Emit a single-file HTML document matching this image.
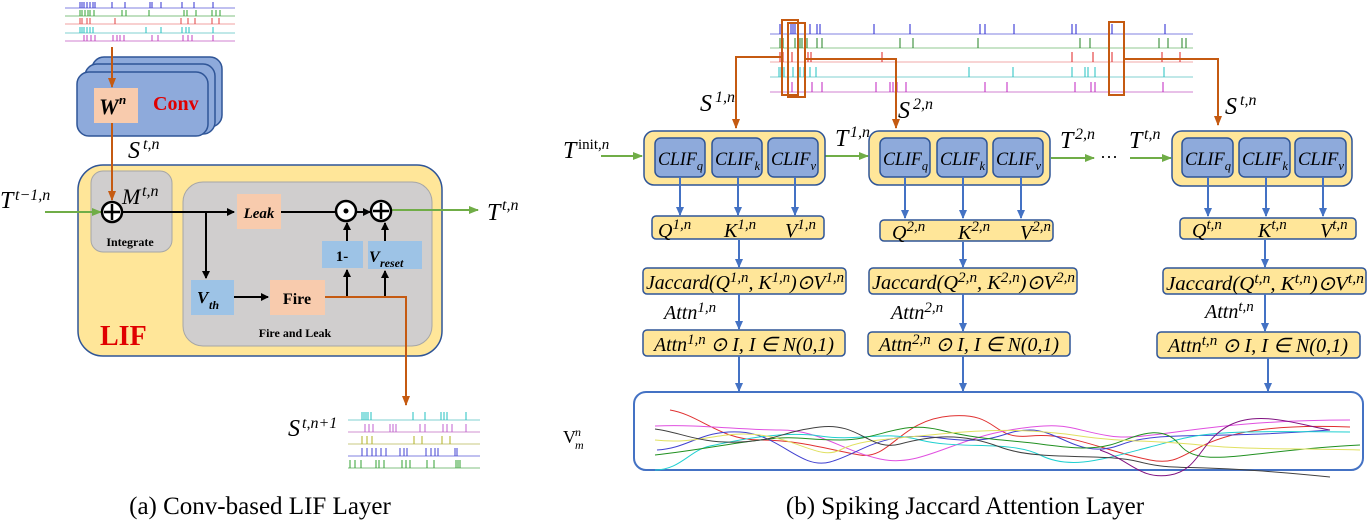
<!DOCTYPE html>
<html><head><meta charset="utf-8"><style>
html,body{margin:0;padding:0;background:#fff;}
svg{display:block;}
.m{font-family:"Liberation Serif",serif;font-style:italic;}
.b{font-family:"Liberation Serif",serif;font-weight:bold;}
</style></head><body>
<svg width="1369" height="523" viewBox="0 0 1369 523" xmlns="http://www.w3.org/2000/svg">
<defs>
<marker id="ab" markerWidth="8" markerHeight="8" refX="7" refY="4" orient="auto" markerUnits="userSpaceOnUse"><path d="M0,0 L8,4 L0,8z" fill="#000"/></marker>
<marker id="ag" markerWidth="10" markerHeight="8" refX="9" refY="4" orient="auto" markerUnits="userSpaceOnUse"><path d="M0,0 L10,4 L0,8z" fill="#70ad47"/></marker>
<marker id="ao" markerWidth="10" markerHeight="8" refX="9" refY="4" orient="auto" markerUnits="userSpaceOnUse"><path d="M0,0 L10,4 L0,8z" fill="#c55a11"/></marker>
<marker id="au" markerWidth="9" markerHeight="8" refX="8" refY="4" orient="auto" markerUnits="userSpaceOnUse"><path d="M0,0 L9,4 L0,8z" fill="#4472c4"/></marker>
</defs>

<!-- ===== LEFT (a) ===== -->
<g stroke-width="1">
<line x1="65" y1="8" x2="235" y2="8" stroke="#8080e0"/>
<line x1="65" y1="16" x2="235" y2="16" stroke="#80c080"/>
<line x1="65" y1="24" x2="235" y2="24" stroke="#f0a0a0"/>
<line x1="65" y1="33" x2="235" y2="33" stroke="#80d0d0"/>
<line x1="65" y1="41" x2="235" y2="41" stroke="#d080d0"/>
<path stroke="#3030d0" d="M80 8v-6M82 8v-6M84 8v-6M87 8v-6M90 8v-6M93 8v-6M95 8v-6M112 8v-6M125 8v-6M150 8v-6M152 8v-6M161 8v-6M182 8v-6M194 8v-6M213 8v-6"/>
<path stroke="#30a030" d="M80 16v-6M82 16v-6M85 16v-6M88 16v-6M90 16v-6M94 16v-6M122 16v-6M126 16v-6M149 16v-6M184 16v-6M187 16v-6M196 16v-6M212 16v-6M216 16v-6M220 16v-6"/>
<path stroke="#e04040" d="M80 24v-6M82 24v-6M87 24v-6M90 24v-6M115 24v-6M181 24v-6M188 24v-6M195 24v-6M212 24v-6M219 24v-6"/>
<path stroke="#20c0c0" d="M80 33v-6M82 33v-6M84 33v-6M87 33v-6M90 33v-6M93 33v-6M146 33v-6M161 33v-6M182 33v-6M186 33v-6M189 33v-6M213 33v-6"/>
<path stroke="#c040c0" d="M84 41v-6M87 41v-6M91 41v-6M95 41v-6M113 41v-6M117 41v-6M120 41v-6M124 41v-6M152 41v-6M158 41v-6M183 41v-6M188 41v-6M192 41v-6M213 41v-6"/>
</g>
<rect x="92" y="57" width="130" height="70" rx="12" fill="#8eaadb" stroke="#2f5597" stroke-width="1.5"/>
<rect x="85" y="64" width="130" height="70" rx="12" fill="#8eaadb" stroke="#2f5597" stroke-width="1.5"/>
<rect x="77" y="72" width="131" height="64" rx="12" fill="#8eaadb" stroke="#2f5597" stroke-width="1.5"/>
<rect x="94" y="88" width="44" height="35" fill="#f8cbad"/>
<text x="99" y="114" class="m" font-weight="bold" font-size="22">W</text><text x="119" y="104" class="m" font-weight="bold" font-size="13">n</text>
<text x="153" y="110" class="b" font-size="20" fill="#e00000">Conv</text>
<line x1="112" y1="47" x2="112" y2="87" stroke="#c55a11" stroke-width="2" marker-end="url(#ao)"/>
<rect x="78" y="165" width="364" height="191" rx="25" fill="#ffe699" stroke="#2f5597" stroke-width="1.5"/>
<rect x="91" y="171" width="81" height="81" rx="12" fill="#d0cece" stroke="#a6a6a6" stroke-width="1"/>
<rect x="183" y="182" width="249" height="164" rx="20" fill="#d0cece" stroke="#a6a6a6" stroke-width="1"/>
<line x1="112" y1="123" x2="112" y2="200" stroke="#c55a11" stroke-width="2" marker-end="url(#ao)"/>
<text x="128" y="158" class="m" font-size="24">S</text><text x="143" y="149" class="m" font-size="16">t,n</text>
<text x="0" y="208" class="m" font-size="24">T</text><text x="15" y="200" class="m" font-size="16">t−1,n</text>
<text x="122" y="204" class="m" font-size="22">M</text><text x="142" y="196" class="m" font-size="16">t,n</text>
<line x1="45" y1="212" x2="101" y2="212" stroke="#70ad47" stroke-width="2" marker-end="url(#ag)"/>
<text x="130" y="246" class="b" font-size="12" text-anchor="middle">Integrate</text>
<text x="295" y="337" class="b" font-size="12" text-anchor="middle">Fire and Leak</text>
<text x="100" y="345" class="b" font-size="28" fill="#e00000">LIF</text>
<rect x="237" y="194" width="44" height="35" fill="#f8cbad"/>
<text x="259" y="218" class="m" font-weight="bold" font-size="15" text-anchor="middle">Leak</text>
<rect x="191" y="280" width="43" height="35" fill="#9dc3e6"/>
<text x="197" y="303" class="m" font-weight="bold" font-size="17">V</text><text x="209" y="309" class="m" font-weight="bold" font-size="12">th</text>
<rect x="270" y="280" width="55" height="35" fill="#f8cbad"/>
<text x="297" y="304" class="b" font-size="16" text-anchor="middle">Fire</text>
<rect x="322" y="241" width="41" height="27" fill="#9dc3e6"/>
<text x="342" y="261" class="b" font-size="15" text-anchor="middle">1-</text>
<rect x="368" y="241" width="54" height="28" fill="#9dc3e6"/>
<text x="369" y="262" class="m" font-weight="bold" font-size="16">V</text><text x="380" y="267" class="m" font-weight="bold" font-size="12">reset</text>
<g stroke="#000" stroke-width="2" fill="none">
<line x1="122" y1="212" x2="234" y2="212" marker-end="url(#ab)"/>
<line x1="206" y1="212" x2="206" y2="278" marker-end="url(#ab)"/>
<line x1="234" y1="297" x2="268" y2="297" marker-end="url(#ab)"/>
<line x1="281" y1="212" x2="336" y2="212"/>
<line x1="356" y1="212" x2="370" y2="212" marker-end="url(#ab)"/>
<line x1="347" y1="241" x2="347" y2="223" marker-end="url(#ab)"/>
<line x1="385" y1="241" x2="385" y2="223" marker-end="url(#ab)"/>
<line x1="347" y1="297" x2="347" y2="270" marker-end="url(#ab)"/>
<line x1="385" y1="297" x2="385" y2="271" marker-end="url(#ab)"/>
</g>
<polyline points="325,297 406,297 406,405" fill="none" stroke="#c55a11" stroke-width="2" marker-end="url(#ao)"/>
<line x1="392" y1="210" x2="478" y2="210" stroke="#70ad47" stroke-width="2" marker-end="url(#ag)"/>
<g stroke="#000" stroke-width="2.5" fill="#fff">
<circle cx="112" cy="212" r="10"/><circle cx="346" cy="211" r="10"/><circle cx="381" cy="211" r="10"/>
</g>
<path d="M112 204v16M104 212h16M381 203v16M373 211h16" stroke="#000" stroke-width="2.5"/>
<circle cx="346" cy="211" r="2.5" fill="#000"/>
<text x="487" y="220" class="m" font-size="24">T</text><text x="502" y="210" class="m" font-size="16">t,n</text>
<text x="288" y="436" class="m" font-size="24">S</text><text x="302" y="428" class="m" font-size="16">t,n+1</text>
<g stroke-width="1">
<line x1="348" y1="420" x2="480" y2="420" stroke="#80d0d0"/>
<line x1="348" y1="432" x2="480" y2="432" stroke="#d090d0"/>
<line x1="348" y1="444" x2="480" y2="444" stroke="#c8c880"/>
<line x1="348" y1="456" x2="480" y2="456" stroke="#8080e0"/>
<line x1="348" y1="468" x2="480" y2="468" stroke="#80c080"/>
<path stroke="#20c0c0" d="M362 420v-8M364 420v-8M366 420v-8M368 420v-8M371 420v-8M413 420v-8M425 420v-8M441 420v-8M444 420v-8M447 420v-8M466 420v-8"/>
<path stroke="#c060d0" d="M365 432v-8M369 432v-8M373 432v-8M390 432v-8M393 432v-8M396 432v-8M420 432v-8M425 432v-8M443 432v-8M447 432v-8M452 432v-8M466 432v-8"/>
<path stroke="#b0b020" d="M362 444v-8M367 444v-8M372 444v-8M414 444v-8M422 444v-8M442 444v-8M450 444v-8"/>
<path stroke="#4040d0" d="M362 456v-8M367 456v-8M372 456v-8M376 456v-8M381 456v-8M386 456v-8M400 456v-8M404 456v-8M407 456v-8M426 456v-8M431 456v-8M435 456v-8M438 456v-8M455 456v-8M457 456v-8"/>
<path stroke="#30a030" d="M350 468v-8M355 468v-8M361 468v-8M376 468v-8M379 468v-8M384 468v-8M402 468v-8M406 468v-8M410 468v-8M427 468v-8M434 468v-8M456 468v-8M458 468v-8M460 468v-8"/>
</g>
<text x="260" y="514" font-family="Liberation Serif,serif" font-size="25" text-anchor="middle">(a) Conv-based LIF Layer</text>

<!-- ===== RIGHT (b) ===== -->
<g stroke-width="1">
<line x1="770" y1="34" x2="1193" y2="34" stroke="#8080e0"/>
<line x1="770" y1="48" x2="1193" y2="48" stroke="#90c890"/>
<line x1="770" y1="62" x2="1193" y2="62" stroke="#f0a8a8"/>
<line x1="770" y1="77" x2="1193" y2="77" stroke="#80d0d0"/>
<line x1="770" y1="92" x2="1193" y2="92" stroke="#d080d0"/>
<path stroke="#2020d0" d="M780 34v-10M791 34v-10M793 34v-10M795 34v-10M805 34v-10M810 34v-10M817 34v-10M820 34v-10M874 34v-10M910 34v-10M980 34v-10M985 34v-10M1014 34v-10M1072 34v-10M1076 34v-10M1112 34v-10M1165 34v-10"/>
<path stroke="#208020" d="M780 48v-10M783 48v-10M788 48v-10M795 48v-10M800 48v-10M802 48v-10M807 48v-10M817 48v-10M822 48v-10M900 48v-10M913 48v-10M978 48v-10M1080 48v-10M1090 48v-10M1159 48v-10M1168 48v-10M1182 48v-10M1186 48v-10"/>
<path stroke="#e02020" d="M780 62v-10M783 62v-10M792 62v-10M805 62v-10M808 62v-10M811 62v-10M882 62v-10M1072 62v-10M1093 62v-10M1112 62v-10M1162 62v-10M1180 62v-10"/>
<path stroke="#20c0c0" d="M779 77v-10M781 77v-10M784 77v-10M793 77v-10M800 77v-10M804 77v-10M810 77v-10M816 77v-10M969 77v-10M1013 77v-10M1072 77v-10M1085 77v-10M1088 77v-10M1095 77v-10M1164 77v-10"/>
<path stroke="#c020c0" d="M792 92v-10M805 92v-10M812 92v-10M822 92v-10M876 92v-10M890 92v-10M893 92v-10M897 92v-10M906 92v-10M985 92v-10M1007 92v-10M1075 92v-10M1091 92v-10M1095 92v-10M1109 92v-10M1163 92v-10"/>
</g>
<g fill="none" stroke="#c55a11" stroke-width="2">
<rect x="782" y="20" width="16" height="75"/>
<rect x="788" y="23" width="17" height="74"/>
<rect x="1109" y="22" width="15" height="73"/>
<polyline points="782,57 736,57 736,128" marker-end="url(#ao)"/>
<polyline points="805,59 896,59 896,128" marker-end="url(#ao)"/>
<polyline points="1124,59 1218,59 1218,125" marker-end="url(#ao)"/>
</g>
<text x="700" y="111" class="m" font-size="24">S</text><text x="715" y="102" class="m" font-size="16">1,n</text>
<text x="898" y="118" class="m" font-size="24">S</text><text x="913" y="109" class="m" font-size="16">2,n</text>
<text x="1225" y="114" class="m" font-size="24">S</text><text x="1240" y="105" class="m" font-size="16">t,n</text>

<text x="563" y="158" class="m" font-size="24">T</text><text x="578" y="149" font-family="Liberation Serif,serif" font-size="15">init,<tspan font-style="italic">n</tspan></text>
<text x="835" y="146" class="m" font-size="24">T</text><text x="850" y="137" class="m" font-size="16">1,n</text>
<text x="1060" y="148" class="m" font-size="24">T</text><text x="1075" y="139" class="m" font-size="16">2,n</text>
<text x="1129" y="148" class="m" font-size="24">T</text><text x="1144" y="139" class="m" font-size="16">t,n</text>
<text x="1100" y="162" font-family="Liberation Sans,sans-serif" font-size="18">···</text>
<g stroke="#70ad47" stroke-width="2">
<line x1="601" y1="156" x2="642" y2="156" marker-end="url(#ag)"/>
<line x1="825" y1="156" x2="868" y2="156" marker-end="url(#ag)"/>
<line x1="1051" y1="158" x2="1094" y2="158" marker-end="url(#ag)"/>
<line x1="1130" y1="158" x2="1171" y2="158" marker-end="url(#ag)"/>
</g>

<g stroke="#2f5597" stroke-width="1.5">
<rect x="644" y="131" width="181" height="54" rx="10" fill="#ffe699"/>
<rect x="869" y="131" width="181" height="54" rx="10" fill="#ffe699"/>
<rect x="1172" y="131" width="180" height="55" rx="10" fill="#ffe699"/>
<g fill="#8eaadb">
<rect x="655" y="138" width="50" height="39" rx="6"/><rect x="712" y="138" width="50" height="39" rx="6"/><rect x="768" y="138" width="50" height="39" rx="6"/>
<rect x="880" y="138" width="50" height="39" rx="6"/><rect x="937" y="138" width="50" height="39" rx="6"/><rect x="993" y="138" width="50" height="39" rx="6"/>
<rect x="1182" y="138" width="51" height="39" rx="6"/><rect x="1239" y="138" width="51" height="39" rx="6"/><rect x="1295" y="138" width="51" height="39" rx="6"/>
</g>
<g fill="#ffe699">
<rect x="652" y="216" width="172" height="23" rx="4"/><rect x="880" y="220" width="173" height="21" rx="4"/><rect x="1180" y="218" width="176" height="21" rx="4"/>
<rect x="643" y="268" width="203" height="26" rx="4"/><rect x="869" y="268" width="208" height="26" rx="4"/><rect x="1163" y="268" width="203" height="26" rx="4"/>
<rect x="643" y="330" width="202" height="26" rx="4"/><rect x="868" y="332" width="202" height="24" rx="4"/><rect x="1157" y="332" width="203" height="26" rx="4"/>
</g>
</g>
<g class="m" font-size="19">
<text x="658" y="165" textLength="45" lengthAdjust="spacingAndGlyphs">CLIF<tspan font-size="13" dy="5">q</tspan></text><text x="715" y="165" textLength="45" lengthAdjust="spacingAndGlyphs">CLIF<tspan font-size="13" dy="5">k</tspan></text><text x="771" y="165" textLength="45" lengthAdjust="spacingAndGlyphs">CLIF<tspan font-size="13" dy="5">v</tspan></text>
<text x="883" y="165" textLength="45" lengthAdjust="spacingAndGlyphs">CLIF<tspan font-size="13" dy="5">q</tspan></text><text x="940" y="165" textLength="45" lengthAdjust="spacingAndGlyphs">CLIF<tspan font-size="13" dy="5">k</tspan></text><text x="996" y="165" textLength="45" lengthAdjust="spacingAndGlyphs">CLIF<tspan font-size="13" dy="5">v</tspan></text>
<text x="1185" y="165" textLength="46" lengthAdjust="spacingAndGlyphs">CLIF<tspan font-size="13" dy="5">q</tspan></text><text x="1242" y="165" textLength="46" lengthAdjust="spacingAndGlyphs">CLIF<tspan font-size="13" dy="5">k</tspan></text><text x="1298" y="165" textLength="46" lengthAdjust="spacingAndGlyphs">CLIF<tspan font-size="13" dy="5">v</tspan></text>
</g>
<g class="m" font-size="20">
<text x="658" y="237">Q<tspan font-size="15" dy="-8">1,n</tspan></text><text x="724" y="237">K<tspan font-size="15" dy="-8">1,n</tspan></text><text x="785" y="237">V<tspan font-size="15" dy="-8">1,n</tspan></text>
<text x="892" y="239">Q<tspan font-size="15" dy="-8">2,n</tspan></text><text x="958" y="239">K<tspan font-size="15" dy="-8">2,n</tspan></text><text x="1020" y="239">V<tspan font-size="15" dy="-8">2,n</tspan></text>
<text x="1192" y="237">Q<tspan font-size="15" dy="-8">t,n</tspan></text><text x="1258" y="237">K<tspan font-size="15" dy="-8">t,n</tspan></text><text x="1320" y="237">V<tspan font-size="15" dy="-8">t,n</tspan></text>
<text x="646" y="289" textLength="198" lengthAdjust="spacingAndGlyphs">Jaccard(Q<tspan font-size="15" dy="-7">1,n</tspan><tspan dy="7">, K</tspan><tspan font-size="15" dy="-7">1,n</tspan><tspan dy="7">)⊙V</tspan><tspan font-size="15" dy="-7">1,n</tspan></text>
<text x="872" y="289" textLength="203" lengthAdjust="spacingAndGlyphs">Jaccard(Q<tspan font-size="15" dy="-7">2,n</tspan><tspan dy="7">, K</tspan><tspan font-size="15" dy="-7">2,n</tspan><tspan dy="7">)⊙V</tspan><tspan font-size="15" dy="-7">2,n</tspan></text>
<text x="1166" y="290" textLength="198" lengthAdjust="spacingAndGlyphs">Jaccard(Q<tspan font-size="15" dy="-7">t,n</tspan><tspan dy="7">, K</tspan><tspan font-size="15" dy="-7">t,n</tspan><tspan dy="7">)⊙V</tspan><tspan font-size="15" dy="-7">t,n</tspan></text>
<text x="664" y="319">Attn<tspan font-size="15" dy="-7">1,n</tspan></text>
<text x="891" y="319">Attn<tspan font-size="15" dy="-7">2,n</tspan></text>
<text x="1205" y="318">Attn<tspan font-size="15" dy="-7">t,n</tspan></text>
<text x="654" y="351" textLength="180" lengthAdjust="spacingAndGlyphs">Attn<tspan font-size="15" dy="-7">1,n</tspan><tspan dy="7"> ⊙ I, I ∈ N(0,1)</tspan></text>
<text x="879" y="351" textLength="180" lengthAdjust="spacingAndGlyphs">Attn<tspan font-size="15" dy="-7">2,n</tspan><tspan dy="7"> ⊙ I, I ∈ N(0,1)</tspan></text>
<text x="1168" y="352" textLength="180" lengthAdjust="spacingAndGlyphs">Attn<tspan font-size="15" dy="-7">t,n</tspan><tspan dy="7"> ⊙ I, I ∈ N(0,1)</tspan></text>
</g>
<g stroke="#4472c4" stroke-width="2">
<line x1="680" y1="177" x2="680" y2="215" marker-end="url(#au)"/><line x1="738" y1="177" x2="738" y2="215" marker-end="url(#au)"/><line x1="795" y1="177" x2="795" y2="215" marker-end="url(#au)"/>
<line x1="905" y1="177" x2="905" y2="218" marker-end="url(#au)"/><line x1="963" y1="177" x2="963" y2="218" marker-end="url(#au)"/><line x1="1021" y1="177" x2="1021" y2="218" marker-end="url(#au)"/>
<line x1="1208" y1="177" x2="1208" y2="216" marker-end="url(#au)"/><line x1="1266" y1="177" x2="1266" y2="216" marker-end="url(#au)"/><line x1="1323" y1="177" x2="1323" y2="216" marker-end="url(#au)"/>
<line x1="739" y1="240" x2="739" y2="267" marker-end="url(#au)"/><line x1="963" y1="242" x2="963" y2="267" marker-end="url(#au)"/><line x1="1265" y1="240" x2="1265" y2="267" marker-end="url(#au)"/>
<line x1="739" y1="294" x2="739" y2="329" marker-end="url(#au)"/><line x1="963" y1="294" x2="963" y2="331" marker-end="url(#au)"/><line x1="1265" y1="294" x2="1265" y2="331" marker-end="url(#au)"/>
<line x1="739" y1="356" x2="739" y2="391" marker-end="url(#au)"/><line x1="963" y1="356" x2="963" y2="391" marker-end="url(#au)"/><line x1="1268" y1="358" x2="1268" y2="391" marker-end="url(#au)"/>
</g>
<rect x="634" y="392" width="729" height="78" rx="12" fill="#fff" stroke="#4472c4" stroke-width="2"/>
<text x="563" y="443" font-family="Liberation Serif,serif" font-size="18">V</text><text x="575" y="436" class="m" font-size="12">n</text><text x="575" y="449" class="m" font-size="12">m</text>
<g fill="none" stroke-width="1">
<path stroke="#e03030" d="M670 410 C700 415,720 440,760 440 S830 450,860 455 S900 420,950 416 S990 440,1030 436 S1100 450,1150 460 S1180 420,1350 427"/>
<path stroke="#e050e0" d="M655 426 C700 424,740 430,780 430 S840 450,880 459 S950 440,1010 430 S1070 430,1110 436 S1200 420,1350 420"/>
<path stroke="#4040d0" d="M657 450 C690 448,700 430,740 432 S800 470,830 462 S880 430,940 438 S1000 430,1030 430 S1080 460,1120 445 S1200 440,1330 430"/>
<path stroke="#20d0d0" d="M655 470 C680 470,690 450,710 446 S780 430,820 436 S880 430,920 440 S1010 440,1040 455 S1100 460,1150 447 S1200 430,1350 432"/>
<path stroke="#209020" d="M655 455 C700 450,720 445,760 440 S800 440,840 440 S900 420,940 430 S1010 440,1040 444 S1090 450,1110 445 S1160 420,1180 445 S1250 450,1360 445"/>
<path stroke="#e0e060" d="M655 440 C700 445,720 430,760 435 S820 460,840 450 S880 440,940 434 S1040 430,1080 436 S1150 440,1200 445 S1280 448,1360 450"/>
<path stroke="#404040" d="M655 437 C680 440,700 452,740 450 S780 440,820 435 S870 460,900 452 S960 440,1000 455 S1100 460,1140 470 S1180 470,1330 485" transform="translate(0,-8)"/>
<path stroke="#801080" d="M1100 450 C1130 460,1140 480,1170 475 S1200 440,1230 425 S1300 425,1330 430"/>
</g>
<text x="965" y="514" font-family="Liberation Serif,serif" font-size="25" text-anchor="middle">(b) Spiking Jaccard Attention Layer</text>
</svg>
</body></html>
